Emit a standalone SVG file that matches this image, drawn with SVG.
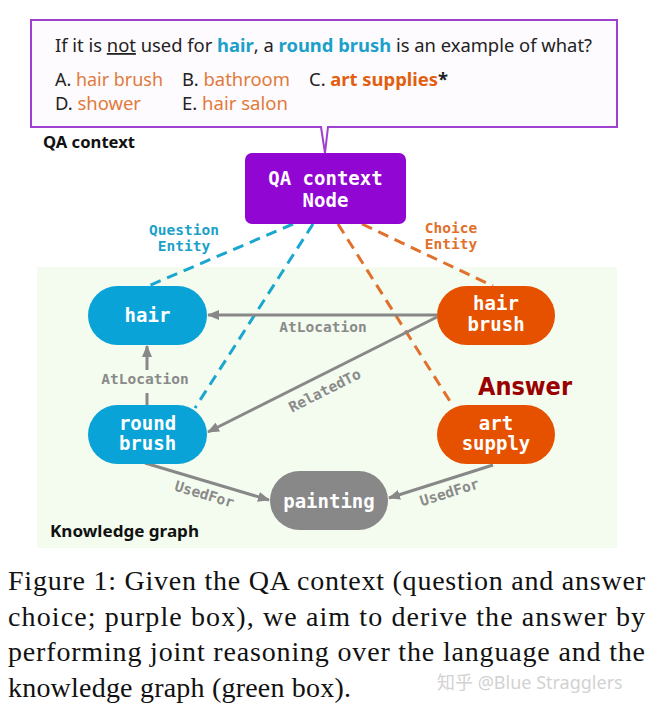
<svg xmlns="http://www.w3.org/2000/svg" width="653" height="713" viewBox="0 0 653 713">
<defs>
<style>
.q{font-family:"Noto Sans","Open Sans",sans-serif;font-size:18px;fill:#222}
.qb{font-weight:bold;fill:#1aa0c9}
.ch{fill:#e07a3a}
.chb{fill:#e0600f;font-weight:bold}
.lbl{font-family:"Noto Sans","Open Sans",sans-serif;font-size:16.5px;font-weight:bold;fill:#111}
.nt{font-family:"DejaVu Sans Mono","Liberation Mono",monospace;font-size:19px;font-weight:bold;fill:#fff;text-anchor:middle}
.el{font-family:"DejaVu Sans Mono","Liberation Mono",monospace;font-size:14.5px;font-weight:bold;fill:#8a8a8a;text-anchor:middle}
.ent{font-family:"DejaVu Sans Mono","Liberation Mono",monospace;font-size:14.5px;font-weight:bold;text-anchor:middle}
.edge{stroke:#888;stroke-width:3;fill:none}
.dblue{stroke:#1ba6cf;stroke-width:3;stroke-dasharray:11 7;fill:none}
.dor{stroke:#e0702b;stroke-width:3;stroke-dasharray:11 7;fill:none}
.cap{font-family:"Liberation Serif","Times New Roman",Times,Tinos,"Nimbus Roman","FreeSerif",serif;font-size:28px;fill:#111}
</style>
<marker id="ah" viewBox="0 0 12 10" refX="11" refY="5" markerWidth="12" markerHeight="10" markerUnits="userSpaceOnUse" orient="auto">
<path d="M0,0 L12,5 L0,10 Z" fill="#888"/>
</marker>
</defs>
<rect width="653" height="713" fill="#fff"/>

<g id="qa-box">
<path d="M31,20 H617 V127 H328 L325,153 L321,127 H31 Z" fill="#fefbff" stroke="#a040d0" stroke-width="2"/>
<text class="q" x="55" y="52" textLength="537" lengthAdjust="spacingAndGlyphs">If it is <tspan text-decoration="underline">not</tspan> used for <tspan class="qb">hair</tspan>, a <tspan class="qb">round brush</tspan> is an example of what?</text>
<text class="q" x="55" y="86" textLength="108" lengthAdjust="spacingAndGlyphs">A. <tspan class="ch">hair brush</tspan></text>
<text class="q" x="182" y="86" textLength="108" lengthAdjust="spacingAndGlyphs">B. <tspan class="ch">bathroom</tspan></text>
<text class="q" x="309" y="86" textLength="139" lengthAdjust="spacingAndGlyphs">C. <tspan class="chb">art supplies</tspan><tspan font-weight="bold">*</tspan></text>
<text class="q" x="55" y="110" textLength="86" lengthAdjust="spacingAndGlyphs">D. <tspan class="ch">shower</tspan></text>
<text class="q" x="182" y="110" textLength="106" lengthAdjust="spacingAndGlyphs">E. <tspan class="ch">hair salon</tspan></text>
<text class="lbl" x="43" y="148" textLength="92" lengthAdjust="spacingAndGlyphs">QA context</text>
</g>

<g id="kg-box">
<rect x="37" y="267" width="580" height="281" fill="#f3fcee"/>
<text class="lbl" x="50" y="537" textLength="149" lengthAdjust="spacingAndGlyphs">Knowledge graph</text>
</g>

<g id="connectors">
<line class="dblue" x1="293" y1="224" x2="146" y2="287"/>
<line class="dblue" x1="313" y1="224" x2="195" y2="408"/>
<line class="dor" x1="338" y1="224" x2="453" y2="406"/>
<line class="dor" x1="362" y1="224" x2="493" y2="286"/>
<line class="edge" x1="437" y1="315" x2="208" y2="315" marker-end="url(#ah)"/>
<line class="edge" x1="437" y1="317" x2="208" y2="432" marker-end="url(#ah)"/>
<line class="edge" x1="147" y1="405" x2="147" y2="393"/>
<line class="edge" x1="147" y1="370" x2="147" y2="346" marker-end="url(#ah)"/>
<line class="edge" x1="145" y1="463" x2="269" y2="500" marker-end="url(#ah)"/>
<line class="edge" x1="493" y1="465" x2="389" y2="498" marker-end="url(#ah)"/>
<text class="ent" x="184" y="235" fill="#1ba1c9">Question</text>
<text class="ent" x="184" y="251" fill="#1ba1c9">Entity</text>
<text class="ent" x="451" y="233" fill="#e0702b">Choice</text>
<text class="ent" x="451" y="249" fill="#e0702b">Entity</text>
<text class="el" x="323" y="332">AtLocation</text>
<text class="el" x="145" y="384">AtLocation</text>
<text class="el" transform="translate(327,395) rotate(-26.8)">RelatedTo</text>
<text class="el" transform="translate(203,499) rotate(16.8)">UsedFor</text>
<text class="el" transform="translate(451,497) rotate(-17.4)">UsedFor</text>
</g>

<g id="node-qa">
<rect x="245" y="153" width="161" height="71" rx="7" fill="#9106d3"/>
<text class="nt" x="325.5" y="185" font-size="20">QA context</text>
<text class="nt" x="325.5" y="207" font-size="20">Node</text>
</g>
<g id="node-hair">
<rect x="88" y="286" width="119" height="59" rx="29.5" fill="#0aa3d7"/>
<text class="nt" x="147.5" y="322">hair</text>
</g>
<g id="node-hairbrush">
<rect x="437" y="286" width="118" height="59" rx="29.5" fill="#e65100"/>
<text class="nt" x="496" y="310">hair</text>
<text class="nt" x="496" y="331">brush</text>
</g>
<g id="node-roundbrush">
<rect x="88" y="405" width="119" height="59" rx="29.5" fill="#0aa3d7"/>
<text class="nt" x="147.5" y="430">round</text>
<text class="nt" x="147.5" y="450">brush</text>
</g>
<g id="node-artsupply">
<rect x="437" y="405" width="118" height="59" rx="29.5" fill="#e65100"/>
<text class="nt" x="496" y="430">art</text>
<text class="nt" x="496" y="450">supply</text>
</g>
<g id="node-painting">
<rect x="270" y="471" width="118" height="59" rx="29.5" fill="#888888"/>
<text class="nt" x="329" y="508">painting</text>
</g>
<g id="answer">
<text x="478" y="395" font-family="'Comic Sans MS','DejaVu Sans',sans-serif" font-size="25" font-weight="bold" fill="#9a0000" textLength="94" lengthAdjust="spacingAndGlyphs">Answer</text>
</g>

<g id="caption">
<text class="cap" x="8" y="590" textLength="637" lengthAdjust="spacing">Figure 1: Given the QA context (question and answer</text>
<text class="cap" x="8" y="626" textLength="637" lengthAdjust="spacing">choice; purple box), we aim to derive the answer by</text>
<text class="cap" x="8" y="661" textLength="637" lengthAdjust="spacing">performing joint reasoning over the language and the</text>
<text class="cap" x="8" y="697" textLength="343" lengthAdjust="spacing">knowledge graph (green box).</text>
<text x="437" y="689" font-family="'Noto Sans','Noto Sans CJK SC',sans-serif" font-size="18" fill="#d2d2d2">知乎 @Blue Stragglers</text>
</g>
</svg>
